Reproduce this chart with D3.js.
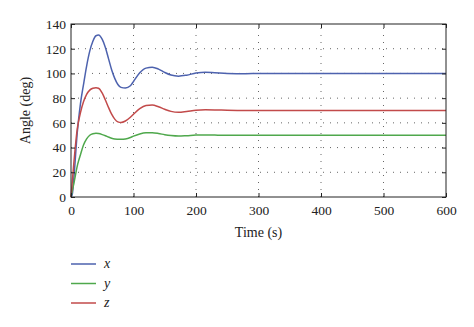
<!DOCTYPE html>
<html>
<head>
<meta charset="utf-8">
<script src="https://cdn.jsdelivr.net/npm/d3@7"></script>
<style>
  html, body { margin: 0; padding: 0; background: #fff; }
  svg { display: block; }
  svg text { font-family: "Liberation Serif", "DejaVu Serif", serif; }
</style>
</head>
<body>
<svg id="chart" width="474" height="327"></svg>
<script>
// Step response of the three attitude angles
const time = [0, 2, 5, 10, 12, 15, 20, 25, 30, 35, 40, 44, 50, 55, 60, 65, 70, 75, 80, 87, 95, 100, 110, 120, 130, 140, 150, 160, 172, 185, 200, 215, 230, 250, 280, 300, 400, 500, 600];
const xAngle = [0, 2, 18, 52, 62, 75, 91, 106, 118, 126, 130.5, 131, 127.5, 121, 112, 103, 96, 91, 88.7, 88.2, 90, 93.5, 100.5, 104.3, 105, 103.5, 100.8, 98.7, 97.8, 98.6, 100.3, 101, 100.6, 100, 99.8, 100, 100, 100, 100];
const yAngle = [0, 5, 12, 25, 29, 34, 42, 47, 50, 51.2, 51.5, 51.3, 50.5, 49.6, 48.5, 47.6, 47, 46.8, 46.7, 47, 48.2, 49.3, 51, 51.9, 52, 51.4, 50.4, 49.7, 49.3, 49.6, 50.1, 50.2, 50.1, 50, 50, 50, 50, 50, 50];
const zAngle = [0, 12, 30, 55, 61, 68, 77, 83, 86.5, 88, 88.4, 88, 84, 78.5, 72.5, 67, 63, 60.8, 60.3, 61.5, 64.5, 67, 71.5, 74, 74.4, 73, 71, 69.3, 68.5, 69.2, 70.3, 70.6, 70.5, 70.2, 70, 70, 70, 70, 70];

const xTicks = [0, 100, 200, 300, 400, 500, 600];
const yTicks = [0, 20, 40, 60, 80, 100, 120, 140];

const series = [
  { name: "x", values: xAngle, color: "#4d62ae" },
  { name: "y", values: yAngle, color: "#4fa84c" },
  { name: "z", values: zAngle, color: "#c24a4a" }
];

const FONT = "'Liberation Serif', 'DejaVu Serif', serif";

const svg = d3.select("#chart");
const margin = { left: 71, top: 24, right: 28, bottom: 130 };
const W = 474, H = 327;
const plotW = W - margin.left - margin.right;
const plotH = H - margin.top - margin.bottom;

const x = d3.scaleLinear().domain([0, 600]).range([margin.left, margin.left + plotW]);
const y = d3.scaleLinear().domain([0, 140]).range([margin.top + plotH, margin.top]);

const g = svg.append("g");

// Dotted grid
g.append("g").selectAll("line").data(xTicks.slice(1, -1)).join("line")
  .attr("x1", d => x(d)).attr("x2", d => x(d))
  .attr("y1", y(0)).attr("y2", y(140))
  .attr("stroke", "#666").attr("stroke-width", 1).attr("stroke-dasharray", "1,6");
g.append("g").selectAll("line").data(yTicks.slice(1, -1)).join("line")
  .attr("x1", x(0)).attr("x2", x(600))
  .attr("y1", d => y(d)).attr("y2", d => y(d))
  .attr("stroke", "#666").attr("stroke-width", 1).attr("stroke-dasharray", "1,6");

// Curves
const line = d3.line()
  .x((d, i) => x(time[i]))
  .y(d => y(d))
  .curve(d3.curveMonotoneX);

g.append("g").selectAll("path").data(series).join("path")
  .attr("d", s => line(s.values))
  .attr("fill", "none")
  .attr("stroke", s => s.color)
  .attr("stroke-width", 1.5);

// Axes with inward ticks on all four sides
function styleAxis(sel) {
  sel.attr("font-family", FONT).attr("font-size", 13.5);
  sel.select(".domain").remove();
  sel.selectAll(".tick line").attr("stroke", "#222");
  sel.selectAll(".tick text").attr("fill", "#222");
}

svg.append("g").attr("transform", `translate(0,${y(0)})`)
  .call(d3.axisBottom(x).tickValues(xTicks).tickSize(-4).tickPadding(8).tickFormat(d3.format("d")))
  .call(styleAxis);
svg.append("g").attr("transform", `translate(0,${y(140)})`)
  .call(d3.axisTop(x).tickValues(xTicks).tickSize(-4).tickFormat(""))
  .call(styleAxis);
svg.append("g").attr("transform", `translate(${x(0)},0)`)
  .call(d3.axisLeft(y).tickValues(yTicks).tickSize(-4).tickPadding(5).tickFormat(d3.format("d")))
  .call(styleAxis);
svg.append("g").attr("transform", `translate(${x(600)},0)`)
  .call(d3.axisRight(y).tickValues(yTicks).tickSize(-4).tickFormat(""))
  .call(styleAxis);

// Frame
svg.append("rect")
  .attr("x", x(0)).attr("y", y(140))
  .attr("width", x(600) - x(0)).attr("height", y(0) - y(140))
  .attr("fill", "none").attr("stroke", "#222").attr("stroke-width", 1);

// Axis titles
svg.append("text")
  .attr("x", (x(0) + x(600)) / 2).attr("y", 237)
  .attr("text-anchor", "middle").attr("fill", "#222")
  .attr("font-family", FONT).attr("font-size", 14)
  .text("Time (s)");
svg.append("text")
  .attr("transform", `translate(30,${(y(0) + y(140)) / 2}) rotate(-90)`)
  .attr("text-anchor", "middle").attr("fill", "#222")
  .attr("font-family", FONT).attr("font-size", 14)
  .text("Angle (deg)");

// Legend
const legend = svg.append("g").selectAll("g").data(series).join("g")
  .attr("transform", (d, i) => `translate(71,${264 + i * 19.5})`);
legend.append("line")
  .attr("x1", 0).attr("x2", 25).attr("y1", 0).attr("y2", 0)
  .attr("stroke", d => d.color).attr("stroke-width", 1.5);
legend.append("text")
  .attr("x", 33).attr("y", 4)
  .attr("fill", "#222")
  .attr("font-family", FONT).attr("font-size", 14).attr("font-style", "italic")
  .text(d => d.name);
</script>
</body>
</html>
